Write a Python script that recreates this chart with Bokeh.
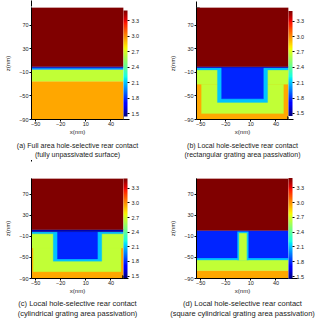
import numpy as np
from bokeh.plotting import figure
from bokeh.models import (LinearColorMapper, ColorBar, FixedTicker, Title, Arrow,
                          NormalHead, ColumnDataSource, PrintfTickFormatter)
from bokeh.layouts import gridplot
from bokeh.embed import file_html
from bokeh.resources import INLINE

# ---------------- data ----------------
X_RANGE = (-55, 55)
Z_RANGE = (-90, 100)
X_TICKS = [-50, -20, 10, 40]
Z_TICKS = [-90, -50, -10, 30, 70]
CBAR_TICKS = [1.5, 1.8, 2.1, 2.4, 2.7, 3.0, 3.3]
CBAR_LOW, CBAR_HIGH = 1.45, 3.5

# panel (a): layered regions (drawn in order)
a_x0 = [-55, -55, -55, -55, -55]
a_x1 = [55, 55, 55, 55, 55]
a_z0 = [-90, -25, -5, -2, 0]
a_z1 = [-25, -5, -2, 0, 100]
a_val = [2.95, 2.65, 2.0, 1.55, 3.5]

# panel (b)
b_x0 = [-55, -55, -49, -55, -30, -25, -55, -55]
b_x1 = [55, 55, 49, 55, 30, 25, 55, 55]
b_z0 = [-90, -30, -80, -6, -61, -55, -2, 0]
b_z1 = [0, -6, -30, -2, -2, -2, 0, 100]
b_val = [2.95, 2.65, 2.65, 2.1, 2.1, 1.78, 1.6, 3.5]

# panel (c)
c_x0 = [-55, -55, -53, -55, -29, -24, -55, -55]
c_x1 = [55, 55, 52, 55, 29, 24, 55, 55]
c_z0 = [-90, -32, -77, -5, -57, -53, -1, 3]
c_z1 = [3, -5, -32, -1, -1, -1, 3, 100]
c_val = [2.95, 2.65, 2.65, 2.1, 2.1, 1.78, 1.55, 3.5]

# panel (d)
d_x0 = [-55, -55, -55, -55, -6, -4, -55]
d_x1 = [55, 55, 55, 55, 7, 5, 55]
d_z0 = [-90, -75, -55, -51, -55, -56, 1]
d_z1 = [-75, -55, -51, 1, -1, -4, 100]
d_val = [2.95, 2.65, 2.1, 1.78, 2.1, 2.65, 3.5]

CAPTIONS = [
    ("(a) Full area hole-selective rear contact", "(fully unpassivated surface)"),
    ("(b) Local hole-selective rear contact", "(rectangular grating area passivation)"),
    ("(c) Local hole-selective rear contact", "(cylindrical grating area passivation)"),
    ("(d) Local hole-selective rear contact", "(square cylindrical grating area passivation)"),
]

# ---------------- style ----------------
FONT = "Liberation Sans"


def jet(n=256):
    t = np.linspace(0, 1, n)
    r = np.interp(t, [0, 0.35, 0.66, 0.89, 1], [0, 0, 1, 1, 0.5])
    g = np.interp(t, [0, 0.125, 0.375, 0.64, 0.91, 1], [0, 0, 1, 1, 0, 0])
    b = np.interp(t, [0, 0.11, 0.34, 0.65, 1], [0.5, 1, 1, 0, 0])
    return ["#%02x%02x%02x" % (int(round(255 * rr)), int(round(255 * gg)), int(round(255 * bb)))
            for rr, gg, bb in zip(r, g, b)]


mapper = LinearColorMapper(palette=jet(), low=CBAR_LOW, high=CBAR_HIGH)


def panel(x0, x1, z0, z1, val, caps, L, T, R, B, cbh, cbgap, capfs, capgap, capgap2, capoff, spacer):
    p = figure(width=160, height=160, x_range=X_RANGE, y_range=Z_RANGE,
               output_backend="svg", toolbar_location=None,
               min_border_left=L, min_border_top=T,
               min_border_right=R, min_border_bottom=B)
    src = ColumnDataSource(dict(x0=x0, x1=x1, z0=z0, z1=z1, val=val))
    p.quad(left="x0", right="x1", bottom="z0", top="z1", source=src,
           fill_color={"field": "val", "transform": mapper},
           line_color={"field": "val", "transform": mapper}, line_width=0.3)
    p.grid.visible = False
    p.outline_line_color = None
    p.xaxis.ticker = FixedTicker(ticks=X_TICKS)
    p.yaxis.ticker = FixedTicker(ticks=Z_TICKS)
    p.xaxis.axis_label = "x(nm)"
    p.yaxis.axis_label = "z(nm)"
    for ax in (p.xaxis[0], p.yaxis[0]):
        ax.major_label_text_font_size = "5.5px"
        ax.major_label_text_font = FONT
        ax.major_label_text_color = "#222222"
        ax.axis_label_text_font_size = "6px"
        ax.axis_label_text_font = FONT
        ax.axis_label_text_font_style = "normal"
        ax.axis_label_text_color = "#222222"
        ax.major_tick_out = 2
        ax.major_tick_in = 0
        ax.minor_tick_out = 0
        ax.minor_tick_in = 0
        ax.major_label_standoff = 0
        ax.axis_label_standoff = 0
        ax.axis_line_color = "black"
    p.yaxis[0].major_label_standoff = 1
    p.yaxis[0].axis_label_standoff = 5

    cb = ColorBar(color_mapper=mapper, ticker=FixedTicker(ticks=CBAR_TICKS),
                  formatter=PrintfTickFormatter(format="%.1f"),
                  width=4, height=cbh, location="center_left", margin=cbgap, padding=0,
                  major_label_text_font_size="5.5px", major_label_text_font=FONT,
                  major_label_text_color="#222222",
                  major_tick_in=0, major_tick_out=2, major_tick_line_color="black",
                  label_standoff=2, bar_line_color=None,
                  background_fill_color=None, border_line_color=None)
    p.add_layout(cb, "right")

    head = dict(size=6, fill_color="black", line_color="black", line_width=0.5)
    p.add_layout(Arrow(end=NormalHead(**head), x_start=0, y_start=0, x_end=0, y_end=160 - B - 1,
                       start_units="screen", end_units="screen", line_width=1))
    p.add_layout(Arrow(end=NormalHead(**head), x_start=0, y_start=0, x_end=160 - L - R + 5, y_end=0,
                       start_units="screen", end_units="screen", line_width=1))

    for i, txt in enumerate(caps):
        p.add_layout(Title(text=txt, align="center", text_font=FONT, text_font_size=capfs,
                           text_font_style="normal", text_color="#222222",
                           standoff=capgap if i == 0 else capgap2, offset=capoff), "below")
    if spacer:
        p.add_layout(Title(text=" ", text_font_size="3px", standoff=0), "below")
    return p


pa = panel(a_x0, a_x1, a_z0, a_z1, a_val, CAPTIONS[0], 30, 7, 37, 40, 106, 8, "7px", 4, -3, 3, False)
pb = panel(b_x0, b_x1, b_z0, b_z1, b_val, CAPTIONS[1], 36, 7, 32, 41, 105, 9, "7px", 4, -3, 1, False)
pc = panel(c_x0, c_x1, c_z0, c_z1, c_val, CAPTIONS[2], 31, 16, 37, 36, 100, 8, "7.5px", 1, -4, 5, True)
pd = panel(d_x0, d_x1, d_z0, d_z1, d_val, CAPTIONS[3], 36, 18, 28, 33, 101, 9, "7.5px", 1, -4, 3, True)

grid = gridplot([[pa, pb], [pc, pd]], toolbar_location=None)
open("out.html", "w").write(file_html(grid, INLINE))
